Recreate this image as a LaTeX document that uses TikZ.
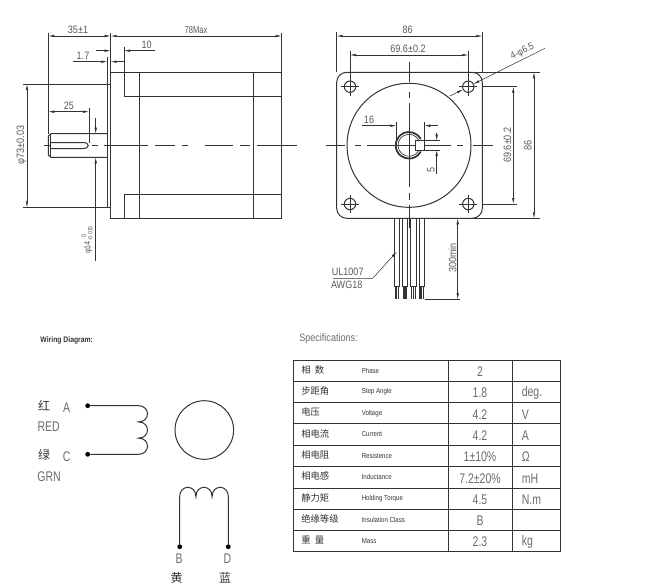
\documentclass[tikz,border=0pt]{standalone}
\usepackage{fontspec}
\usetikzlibrary{arrows.meta,calc}
\newfontfamily\cad[FakeStretch=0.85]{Liberation Sans}
\newfontfamily\cadn[FakeStretch=0.75]{Liberation Sans}
\newfontfamily\cjk{Noto Sans CJK SC}
\definecolor{ink}{gray}{0.2}
\definecolor{txt}{gray}{0.35}
\definecolor{vtxt}{gray}{0.42}
\tikzset{
  x=0.75pt,y=-0.75pt,
  outline/.style={draw=ink,line width=0.75pt},
  thin line/.style={draw=ink,line width=0.5pt},
  dim/.style={draw=ink,line width=0.4pt,{Latex[length=4.5pt,width=1.9pt]}-{Latex[length=4.5pt,width=1.9pt]}},
  lead/.style={draw=ink,line width=0.4pt,-{Latex[length=4.5pt,width=1.9pt]}},
  ext/.style={draw=ink,line width=0.4pt},
  dimtxt/.style={inner sep=0pt,text=txt,font=\cad\fontsize{8}{9}\selectfont},
  val/.style={inner sep=0pt,text=vtxt,font=\cadn\fontsize{10.5}{12}\selectfont},
  eng/.style={inner sep=0pt,anchor=west,text=ink,font=\cad\fontsize{5.4}{6}\selectfont},
  zh/.style={inner sep=0pt,text=ink,font=\cjk\fontsize{7}{8}\selectfont},
  zhb/.style={inner sep=0pt,text=ink,font=\cjk\fontsize{9}{10}\selectfont},
  term/.style={circle,fill=black,inner sep=0pt,minimum size=3.6pt},
}
\begin{document}
\begin{tikzpicture}
\useasboundingbox (0,0) rectangle (650,587);
% ---------- side view
\draw[outline] (110.7,72.3) rectangle (281.7,218.3);
\draw[outline] (124,72.3) -- (124,96.3) -- (281.7,96.3);
\draw[outline] (124,218.3) -- (124,194.3) -- (281.7,194.3);
\draw[outline] (139.3,72.3) -- (139.3,218.3);
\draw[outline] (253,72.3) -- (253,218.3);
\draw[outline] (107.3,84) rectangle (110.7,207.3);
\draw[outline] (107.3,133.7) -- (51,133.7) -- (48.3,136) -- (48.3,155) -- (51,157.3) -- (107.3,157.3);
\draw[outline] (50,134) -- (50,157);
\draw[outline] (50,142.5) -- (83,142.5) .. controls (90,142.5) and (90,148.5) .. (83,148.5) -- (50,148.5);
\foreach \sa/\sb in {44/50,92/98,104/148,155/175,182/188,205/233,240/250,257/297}{
  \draw[ext] (\sa,145.3) -- (\sb,145.3);
}
% side dimensions
\draw[ext] (48.3,33) -- (48.3,133.7);
\draw[ext] (110.7,33) -- (110.7,72.3);
\draw[ext] (281.7,33) -- (281.7,72.3);
\draw[dim] (48.3,36) -- (110.7,36);
\draw[dim] (110.7,36) -- (281.7,36);
\node[dimtxt] (t35) at (78,30) {35±1};
\node[dimtxt,font=\cadn\fontsize{7.5}{9}\selectfont] (t78) at (196,30) {78Max};
\draw[ext] (124,47) -- (124,72.3);
\draw[lead] (96,50.7) -- (110.7,50.7);
\draw[lead] (155,50.7) -- (124,50.7);
\node[dimtxt] (t10) at (146.7,45) {10};
\draw[ext] (107.3,56.7) -- (107.3,84);
\draw[lead] (73,61.7) -- (107.3,61.7);
\draw[lead] (124,61.7) -- (110.7,61.7);
\node[dimtxt] (t17) at (83,56) {1.7};
\draw[ext] (89,107.7) -- (89,142.5);
\draw[dim] (48.3,111.7) -- (89,111.7);
\node[dimtxt] (t25) at (69,106) {25};
\draw[ext] (23,84) -- (107.3,84);
\draw[ext] (23,207.3) -- (107.3,207.3);
\draw[dim] (27,84) -- (27,207.3);
\node[dimtxt,rotate=90] (t73) at (21.5,145) {φ73±0.03};
\draw[lead] (95.7,118) -- (95.7,133.7);
\draw[lead] (95.7,260.7) -- (95.7,157.3);
\node[inner sep=0pt,rotate=90,text=txt,font=\cad\fontsize{6.5}{7}\selectfont] (t14) at (87,240) {φ14\rlap{\raisebox{3.2pt}{\fontsize{5}{5}\selectfont\ \ 0}}\raisebox{-1.6pt}{\fontsize{4.6}{5}\selectfont -0.015}};
% ---------- front view
\draw[outline,rounded corners=7.5pt] (336.7,72.3) rectangle (482.3,218.3);
\coordinate (c) at (409,145.3);
\draw[outline] (c) circle[radius=62];
\foreach \hx/\hy in {350/86.7,468.3/86.7,350/204,468.3/204}{
  \draw[outline] (\hx,\hy) circle[radius=5.7];
  \draw[ext] (\hx-9,\hy) -- (\hx+9,\hy);
  \draw[ext] (\hx,\hy-9) -- (\hx,\hy+9);
}
\foreach \sa/\sb in {61.7/82,92/98,103/187,193/200,205/228}{
  \draw[ext] (409,\sa) -- (409,\sb);
}
\foreach \sa/\sb in {325.7/345,355/361,367/451,457/463,473/493}{
  \draw[ext] (\sa,145.3) -- (\sb,145.3);
}
% shaft
\draw[draw=ink,line width=1.3pt] ($(c)+(-28:13.3)$) arc[start angle=-28,end angle=-332,radius=13.3];
\draw[draw=ink,line width=0.5pt] ($(c)+(-28:11)$) arc[start angle=-28,end angle=-332,radius=11];
\draw[fill=white,outline] (415.7,140.7) rectangle (424.3,150);
\draw[ext] (406,145.3) -- (412,145.3);
\draw[ext] (409,142.3) -- (409,148.3);
% wires
\foreach \wa/\wb in {394.3/399.3,402.3/407.7,410.7/416,419/424.3}{
  \draw[outline] (\wa,218.3) -- (\wa,286.7) -- (\wb,286.7) -- (\wb,218.3);
  \foreach \wt in {0,1,2}{
    \draw[draw=ink,line width=0.9pt] ({\wa+0.9+\wt*(\wb-\wa-1.8)/2},286.7) -- ({\wa+0.9+\wt*(\wb-\wa-1.8)/2},299.3);
  }
}
% front dimensions
\draw[ext] (336.7,32) -- (336.7,72.3);
\draw[ext] (482.3,32) -- (482.3,72.3);
\draw[dim] (336.7,36) -- (482.3,36);
\node[dimtxt] (t86a) at (407.7,30) {86};
\draw[ext] (350,50.7) -- (350,78);
\draw[ext] (468.3,50.7) -- (468.3,78);
\draw[dim] (350,55) -- (468.3,55);
\node[dimtxt] (t696a) at (408,49.3) {69.6±0.2};
\draw[ext] (472,72.3) -- (540,72.3);
\draw[ext] (472,218.3) -- (540,218.3);
\draw[dim] (534,72.3) -- (534,218.3);
\node[dimtxt,rotate=90] (t86b) at (528,145) {86};
\draw[ext] (482.3,86.7) -- (517,86.7);
\draw[ext] (482.3,204) -- (517,204);
\draw[dim] (513.3,86.7) -- (513.3,204);
\node[dimtxt,rotate=90] (t696b) at (507.5,145) {69.6±0.2};
\draw[ext] (425,299.3) -- (460,299.3);
\draw[dim] (457.7,218.3) -- (457.7,299.3);
\node[dimtxt,rotate=90] (t300) at (452.5,258) {300min};
\draw[lead] (545,48.3) -- (473.5,84);
\draw[lead] (450,96) -- (463,89.5);
\node[dimtxt,rotate=26.6,font=\cad\fontsize{7.5}{8}\selectfont] (t65) at (522.5,52) {4-φ6.5};
\draw[ext] (396.4,121.7) -- (396.4,145);
\draw[ext] (424.3,121.7) -- (424.3,140.7);
\draw[lead] (361.7,125.7) -- (396.4,125.7);
\draw[lead] (438,125.7) -- (424.3,125.7);
\node[dimtxt] (t16) at (369,120) {16};
\draw[ext] (424.3,140.7) -- (440,140.7);
\draw[ext] (424.3,150) -- (440,150);
\draw[lead] (436.7,133) -- (436.7,140.7);
\draw[lead] (436.7,174) -- (436.7,150);
\node[dimtxt,rotate=90] (t5) at (431,170) {5};
\draw[lead] (333,278.3) -- (372.7,278.3) -- (396.7,251.7);
\node[dimtxt] (tul) at (347.7,272) {UL1007};
\node[dimtxt] (tawg) at (346.7,284.5) {AWG18};
% ---------- wiring
\node[inner sep=0pt,text=ink,font=\cad\bfseries\fontsize{6}{7}\selectfont] (twd) at (66.7,340.7) {Wiring Diagram:};
\node[term] (A) at (87.7,405.7) {};
\node[term] (C) at (87.7,454.3) {};
\node[term] (B) at (179.7,546.7) {};
\node[term] (D) at (228.3,546.7) {};
\coordinate (ca) at (138.5,405.7);
\coordinate (cc) at (138.5,454.3);
\coordinate (cb) at (179.7,496.7);
\coordinate (cd) at (228.3,496.7);
\draw[outline] (A) -- (ca)
  .. controls +(12,0) and +(12,0) .. ++(0,16.2)
  .. controls +(12,0) and +(12,0) .. ++(0,16.2)
  .. controls +(12,0) and +(12,0) .. (cc) -- (C);
\draw[outline] (B) -- (cb)
  .. controls +(0,-12.5) and +(0,-12.5) .. ++(16.2,0)
  .. controls +(0,-12.5) and +(0,-12.5) .. ++(16.2,0)
  .. controls +(0,-12.5) and +(0,-12.5) .. (cd) -- (D);
\draw[outline] (204.3,430) circle[radius=29.3];
\node[zhb] (lred) at (44,406) {红};
\node[val] (la) at (66.7,408) {A};
\node[val] (tred) at (48.7,427) {RED};
\node[zhb] (lgrn) at (44,455) {绿};
\node[val] (lc) at (66.7,457) {C};
\node[val] (tgrn) at (49,477) {GRN};
\node[val] (lb) at (179,558.5) {B};
\node[val] (ld) at (227.3,558.5) {D};
\node[zhb] (lyel) at (176.7,577.5) {黄};
\node[zhb] (lblu) at (225,577.5) {蓝};
% ---------- table
\node[inner sep=0pt,anchor=west,text=vtxt,font=\cad\fontsize{8}{9}\selectfont] (tspec) at (299,338.3) {Specifications:};
\foreach \ry in {360,381,402.7,423.7,445.3,466.7,488,509.3,530.3,551.7}{
  \draw[thin line] (293.3,\ry) -- (561,\ry);
}
\foreach \cx in {293.3,448.3,512.3,560.3}{
  \draw[thin line] (\cx,360) -- (\cx,551.7);
}
\foreach \ry/\zhl/\enl/\vall/\unit in {
  370.5/{相\ \ 数}/Phase/2/{},
  391.8/步距角/Step Angle/1.8/deg.,
  413.2/电压/Voltage/4.2/V,
  434.5/相电流/Current/4.2/A,
  456/相电阻/Resistence/1±10\%/Ω,
  477.3/相电感/Inductance/7.2±20\%/mH,
  498.6/静力矩/Holding Torque/4.5/N.m,
  519.8/绝缘等级/Insulation Class/B/{},
  541/{重\ \ 量}/Mass/2.3/kg}{
  \node[zh,anchor=west] at (301,\ry-1) {\zhl};
  \node[eng] at (361.5,\ry) {\enl};
  \node[val] at (480,\ry+1) {\vall};
  \node[val,anchor=west] at (521.5,\ry+1) {\unit};
}
\end{tikzpicture}
\end{document}
